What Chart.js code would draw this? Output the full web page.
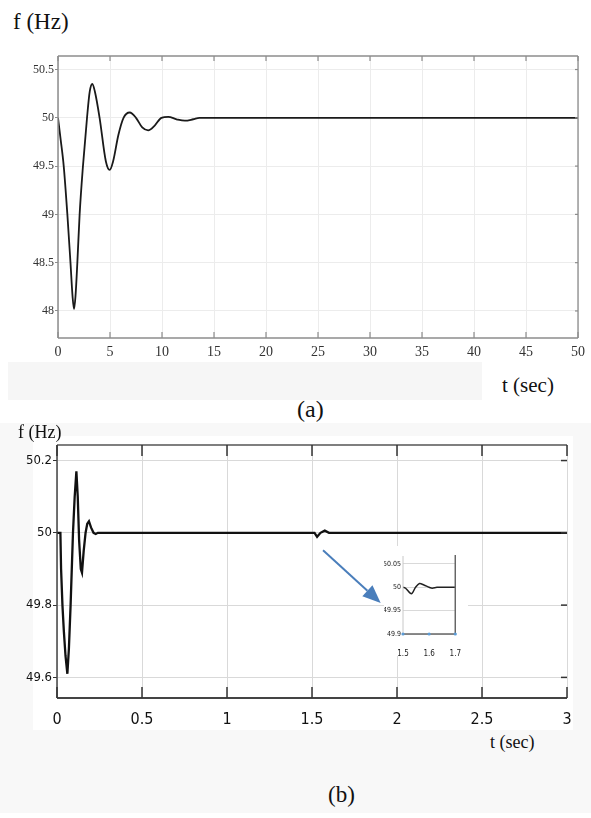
<!DOCTYPE html>
<html><head><meta charset="utf-8">
<script src="https://cdn.jsdelivr.net/npm/chart.js@4/dist/chart.umd.min.js"></script>
<style>
html,body{margin:0;padding:0;background:#fff;}
#wrap{position:relative;width:591px;height:818px;overflow:hidden;background:#fff;}
.abs{position:absolute;}
.lbl{position:absolute;font-family:"Liberation Serif","Times New Roman",serif;color:#111;white-space:nowrap;line-height:1;}
canvas{position:absolute;}
</style></head><body>
<div id="wrap">
 <div class="abs" style="left:8px;top:362px;width:474px;height:38px;background:#f6f6f6"></div>
 <div class="abs" style="left:0;top:423px;width:591px;height:390px;background:#f8f8f8"></div>
 <div class="abs" style="left:33px;top:436px;width:540px;height:294px;background:#fff"></div>
 <canvas id="cTop" width="591" height="330" style="left:0;top:40px"></canvas>
 <canvas id="cBot" width="591" height="300" style="left:0;top:430px"></canvas>
 <canvas id="cIns" width="84" height="110" style="left:384px;top:546px;background:#fff"></canvas>
 <div class="lbl" style="left:13px;top:10px;font-size:23px">f (Hz)</div>
 <div class="lbl" style="left:502px;top:375px;font-size:21px">t (sec)</div>
 <div class="lbl" style="left:297px;top:397px;font-size:24px">(a)</div>
 <div class="lbl" style="left:18px;top:423px;font-size:18px">f (Hz)</div>
 <div class="lbl" style="left:490px;top:733px;font-size:18px">t (sec)</div>
 <div class="lbl" style="left:328px;top:783px;font-size:23px">(b)</div>
</div>
<script>
// ---- (a) data ----
const tTop = [0,0.25,0.55,0.9,1.2,1.4,1.54,1.68,1.86,2.08,2.4,2.79,3.05,3.3,3.55,4.0,4.6,4.97,5.3,5.8,6.3,6.9,7.5,8.1,8.67,9.3,9.94,10.6,11.4,12.2,13.0,13.6,15,20,30,40,50];
const fTop = [50.0,49.78,49.5,49.0,48.5,48.15,48.02,48.15,48.5,49.0,49.5,50.0,50.27,50.35,50.27,50.0,49.55,49.46,49.55,49.82,50.0,50.055,50.0,49.9,49.87,49.92,50.0,50.01,49.985,49.97,49.985,50.0,50.0,50.0,50.0,50.0,50.0];
const xTicksTop = [0,5,10,15,20,25,30,35,40,45,50];
const xLabelsTop = ["0","5","10","15","20","25","30","35","40","45","50"];
const yTicksTop = [48,48.5,49,49.5,50,50.5];
const yLabelsTop = ["48","48.5","49","49.5","50","50.5"];

// ---- (b) data ----
const tBot = [0,0.02,0.024,0.032,0.04,0.05,0.061,0.07,0.08,0.094,0.104,0.114,0.122,0.13,0.14,0.147,0.157,0.168,0.178,0.188,0.2,0.215,0.228,0.24,1.5,1.515,1.53,1.55,1.575,1.6,3.0];
const fBot = [50,50,49.9,49.8,49.73,49.66,49.61,49.68,49.8,50.0,50.1,50.17,50.1,49.98,49.9,49.89,49.95,50.0,50.025,50.032,50.015,50.0,49.997,50,50,50,49.989,50.0,50.006,50,50];
const xTicksBot = [0,0.5,1,1.5,2,2.5,3];
const xLabelsBot = ["0","0.5","1","1.5","2","2.5","3"];
const yTicksBot = [49.6,49.8,50,50.2];
const yLabelsBot = ["49.6","49.8","50","50.2"];

// ---- (b) inset data ----
const tIns = [1.5,1.51,1.532,1.548,1.563,1.58,1.6,1.612,1.63,1.7];
const fIns = [50.0,49.998,49.986,50.0,50.008,50.005,50.0,49.998,50.0,50.0];
const xTicksIns = [1.5,1.6,1.7];
const xLabelsIns = ["1.5","1.6","1.7"];
const yTicksIns = [49.9,49.95,50,50.05];
const yLabelsIns = ["49.9","49.95","50","50.05"];

// arrow annotation (data units of chart b)
const arrowFrom = [1.565, 49.952];
const arrowTo = [1.904, 49.806];

const framePlugin = {
  id: 'frame',
  afterDraw(chart, args, o) {
    const ctx = chart.ctx, a = chart.chartArea;
    const xs = chart.scales.x, ys = chart.scales.y;
    ctx.save();
    const line = (x1,y1,x2,y2,c,w) => {ctx.strokeStyle=c;ctx.lineWidth=w;ctx.setLineDash([]);ctx.beginPath();ctx.moveTo(x1,y1);ctx.lineTo(x2,y2);ctx.stroke();};
    const s = o.sides || {};
    if (s.top) line(a.left, a.top, a.right, a.top, s.top.c, s.top.w);
    if (s.bottom) line(a.left, a.bottom, a.right, a.bottom, s.bottom.c, s.bottom.w);
    if (s.left) line(a.left, a.top, a.left, a.bottom, s.left.c, s.left.w);
    if (s.right) line(a.right, a.top - (s.right.ext||0), a.right, a.bottom, s.right.c, s.right.w);
    const t = o.ticks || {};
    xs.ticks.forEach(tk => {
      const px = xs.getPixelForValue(tk.value);
      if (t.top) line(px, a.top, px, a.top + t.top, t.c, t.w);
      if (t.bottom) line(px, a.bottom, px, a.bottom - t.bottom, t.c, t.w);
      if (o.dots) { ctx.fillStyle = o.dots; ctx.beginPath(); ctx.arc(px, a.bottom, 1.6, 0, Math.PI*2); ctx.fill(); }
    });
    ys.ticks.forEach(tk => {
      const py = ys.getPixelForValue(tk.value);
      if (t.right) line(a.right - t.right, py, a.right, py, t.c, t.w);
    });
    if (o.arrow) {
      const x1 = xs.getPixelForValue(o.arrow.from[0]), y1 = ys.getPixelForValue(o.arrow.from[1]);
      const x2 = xs.getPixelForValue(o.arrow.to[0]), y2 = ys.getPixelForValue(o.arrow.to[1]);
      const ang = Math.atan2(y2-y1, x2-x1), L = 18, W = 7.5;
      const bx = x2 - L*Math.cos(ang), by = y2 - L*Math.sin(ang);
      line(x1, y1, bx, by, o.arrow.color, 2);
      ctx.fillStyle = o.arrow.color;
      ctx.beginPath();
      ctx.moveTo(x2, y2);
      ctx.lineTo(bx + W*Math.sin(ang), by - W*Math.cos(ang));
      ctx.lineTo(bx - W*Math.sin(ang), by + W*Math.cos(ang));
      ctx.closePath(); ctx.fill();
    }
    ctx.restore();
  }
};

function pts(xs, ys){ return xs.map((x,i)=>({x:x, y:ys[i]})); }
function setTicks(arr){ return function(scale){ scale.ticks = arr.map(v=>({value:v})); }; }

const serif = '"Liberation Serif", serif';
const narrow = '"DejaVu Sans Condensed", "Liberation Sans", sans-serif';

// ---- chart (a) ----
new Chart(document.getElementById('cTop'), {
  type: 'line',
  data: { datasets: [{ data: pts(tTop, fTop), borderColor: '#1a1a1a', borderWidth: 1.8, pointRadius: 0, cubicInterpolationMode: 'monotone', fill: false }] },
  options: {
    responsive: false, animation: false, devicePixelRatio: 1,
    layout: { padding: { top: 16, right: 13, left: 0, bottom: 0 } },
    plugins: { legend: { display: false }, tooltip: { enabled: false },
      frame: { sides: { top:{c:'#8c8c8c',w:1.3}, bottom:{c:'#8c8c8c',w:1.5}, left:{c:'#8c8c8c',w:1.5}, right:{c:'#8c8c8c',w:1.3} },
               ticks: { top: 5, bottom: 6, right: 3, c: '#8c8c8c', w: 1.2 } } },
    scales: {
      x: { type: 'linear', min: 0, max: 50,
        afterBuildTicks: setTicks(xTicksTop),
        afterFit(s){ s.height = 32; },
        border: { display: false },
        grid: { color: '#ececec', lineWidth: 1, drawTicks: false },
        ticks: { padding: 6, color: '#333', maxRotation: 0, autoSkip: false, font: { family: serif, size: 14 }, callback: (v,i) => xLabelsTop[i] } },
      y: { type: 'linear', min: 47.72, max: 50.64,
        afterBuildTicks: setTicks(yTicksTop),
        afterFit(s){ s.width = 58; },
        border: { display: false },
        grid: { color: '#ececec', lineWidth: 1, drawTicks: true, tickLength: 3, tickColor: '#8c8c8c' },
        ticks: { padding: 1, color: '#333', autoSkip: false, font: { family: serif, size: 12 }, callback: (v,i) => yLabelsTop[i] } }
    }
  },
  plugins: [framePlugin]
});

// ---- chart (b) ----
new Chart(document.getElementById('cBot'), {
  type: 'line',
  data: { datasets: [{ data: pts(tBot, fBot), borderColor: '#111', borderWidth: 2.3, pointRadius: 0, tension: 0, fill: false }] },
  options: {
    responsive: false, animation: false, devicePixelRatio: 1,
    layout: { padding: { top: 15, right: 24, left: 0, bottom: 0 } },
    plugins: { legend: { display: false }, tooltip: { enabled: false },
      frame: { sides: { top:{c:'#555',w:1.5}, bottom:{c:'#444',w:2}, left:{c:'#444',w:1.5} },
               ticks: { top: 11, bottom: 11, right: 6, c: '#333', w: 1.5 },
               arrow: { from: arrowFrom, to: arrowTo, color: '#4a7ebb' } } },
    scales: {
      x: { type: 'linear', min: 0, max: 3,
        afterBuildTicks: setTicks(xTicksBot),
        afterFit(s){ s.height = 32; },
        border: { display: false },
        grid: { color: '#d9d9d9', lineWidth: 1, drawTicks: false },
        ticks: { padding: 12, color: '#111', maxRotation: 0, autoSkip: false, font: { family: narrow, size: 16 }, callback: (v,i) => xLabelsBot[i] } },
      y: { type: 'linear', min: 49.543, max: 50.243,
        afterBuildTicks: setTicks(yTicksBot),
        afterFit(s){ s.width = 57; },
        border: { display: false },
        grid: { color: '#d9d9d9', lineWidth: 1, drawTicks: true, tickLength: 4, tickColor: '#333' },
        ticks: { padding: 1, color: '#111', autoSkip: false, font: { family: narrow, size: 13 }, callback: (v,i) => yLabelsBot[i] } }
    }
  },
  plugins: [framePlugin]
});

// ---- inset ----
new Chart(document.getElementById('cIns'), {
  type: 'line',
  data: { datasets: [{ data: pts(tIns, fIns), borderColor: '#222', borderWidth: 1.5, pointRadius: 0, tension: 0.3, fill: false }] },
  options: {
    responsive: false, animation: false, devicePixelRatio: 1,
    layout: { padding: { top: 10, right: 6, left: 0, bottom: 0 } },
    plugins: { legend: { display: false }, tooltip: { enabled: false },
      frame: { sides: { bottom:{c:'#666',w:1.5}, left:{c:'#c8c8c8',w:1}, right:{c:'#666',w:1.5, ext:1} },
               dots: '#5b9bd5' } },
    scales: {
      x: { type: 'linear', min: 1.5, max: 1.7,
        afterBuildTicks: setTicks(xTicksIns),
        afterFit(s){ s.height = 22; },
        border: { display: false },
        grid: { display: false },
        ticks: { padding: 7, color: '#222', maxRotation: 0, autoSkip: false, font: { family: narrow, size: 8 }, callback: (v,i) => xLabelsIns[i] } },
      y: { type: 'linear', min: 49.9, max: 50.067,
        afterBuildTicks: setTicks(yTicksIns),
        afterFit(s){ s.width = 19; },
        border: { display: false },
        grid: { color: '#d9d9d9', lineWidth: 1, drawTicks: false },
        ticks: { padding: 2, color: '#222', autoSkip: false, font: { family: narrow, size: 7 }, callback: (v,i) => yLabelsIns[i] } }
    }
  },
  plugins: [framePlugin]
});
</script>
</body></html>
